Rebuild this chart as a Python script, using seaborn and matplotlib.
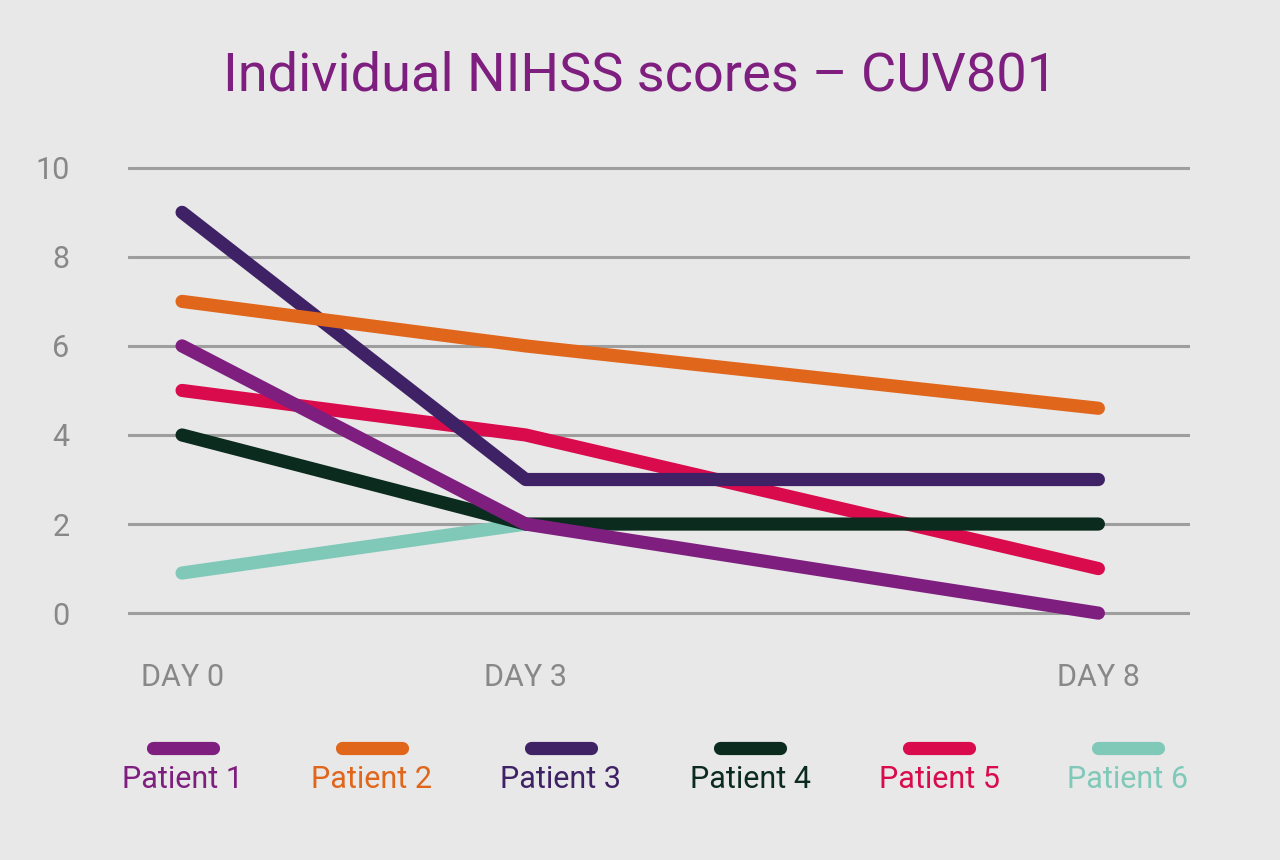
"""Individual NIHSS scores for CUV801, one line per patient."""

import numpy as np
import pandas as pd
import seaborn as sns
import matplotlib.pyplot as plt

# Data
days = [0, 3, 8]
day_labels = ["DAY 0", "DAY 3", "DAY 8"]
patients = ["Patient 1", "Patient 2", "Patient 3", "Patient 4", "Patient 5", "Patient 6"]
patient_1 = [6, 2, 0]
patient_2 = [7, 6, 4.6]
patient_3 = [9, 3, 3]
patient_4 = [4, 2, 2]
patient_5 = [5, 4, 1]
patient_6 = [0.9, 2, np.nan]
y_ticks = [0, 2, 4, 6, 8, 10]

COLORS = {
    "Patient 1": "#7e1e7f",
    "Patient 2": "#e0661c",
    "Patient 3": "#3f2265",
    "Patient 4": "#0c2b1f",
    "Patient 5": "#d90b4d",
    "Patient 6": "#80c9b9",
}
BG = "#e8e8e8"
GRID = "#9e9e9e"
TICK = "#888888"
LW = 9.5


def build_frame() -> pd.DataFrame:
    scores = [patient_1, patient_2, patient_3, patient_4, patient_5, patient_6]
    rows = []
    for name, vals in zip(patients, scores):
        for d, v in zip(days, vals):
            rows.append({"day": d, "score": v, "patient": name})
    return pd.DataFrame(rows)


def main():
    sns.set_style("white", {"axes.facecolor": BG, "figure.facecolor": BG})
    plt.rcParams["font.family"] = ["Roboto", "DejaVu Sans"]

    df = build_frame()

    fig = plt.figure(figsize=(12.8, 8.6), dpi=100)
    ax = fig.add_axes([0.1, 0.2674, 0.8297, 0.5582])

    # Patient 1 sits on top, so draw in reverse order
    sns.lineplot(
        data=df, x="day", y="score", hue="patient",
        hue_order=patients[::-1], palette=COLORS,
        linewidth=LW, solid_capstyle="round", sort=False,
        legend=False, ax=ax,
    )

    ax.set_xlim(-0.472, 8.80)
    ax.set_ylim(-0.38, 10.40)
    ax.set_xticks(days)
    ax.set_xticklabels(day_labels)
    ax.set_yticks(y_ticks)
    ax.set_xlabel("")
    ax.set_ylabel("")
    ax.tick_params(axis="x", length=0, pad=24, labelsize=22, labelcolor=TICK)
    ax.tick_params(axis="y", length=0, pad=42, labelsize=22, labelcolor=TICK)
    ax.yaxis.grid(True, color=GRID, linewidth=2.2)
    ax.xaxis.grid(False)
    ax.set_axisbelow(True)
    sns.despine(ax=ax, left=True, bottom=True)

    fig.text(0.5, 0.8953, "Individual NIHSS scores \u2013 CUV801",
             ha="center", va="baseline", fontsize=39, color=COLORS["Patient 1"])

    # Legend: a rounded swatch above each coloured label
    lax = fig.add_axes([0.0691, 0.0698, 0.886, 0.0814])
    lax.set_xlim(-0.5, len(patients) - 0.5)
    lax.set_ylim(0, 1)
    lax.axis("off")
    for i, name in enumerate(patients):
        lax.plot([i - 0.159, i + 0.159], [0.743, 0.743], color=COLORS[name],
                 linewidth=LW, solid_capstyle="round")
        lax.text(i, 0.286, name, ha="center", va="center",
                 fontsize=22, color=COLORS[name])

    fig.savefig("out.png", dpi=100, facecolor=BG)


if __name__ == "__main__":
    main()
